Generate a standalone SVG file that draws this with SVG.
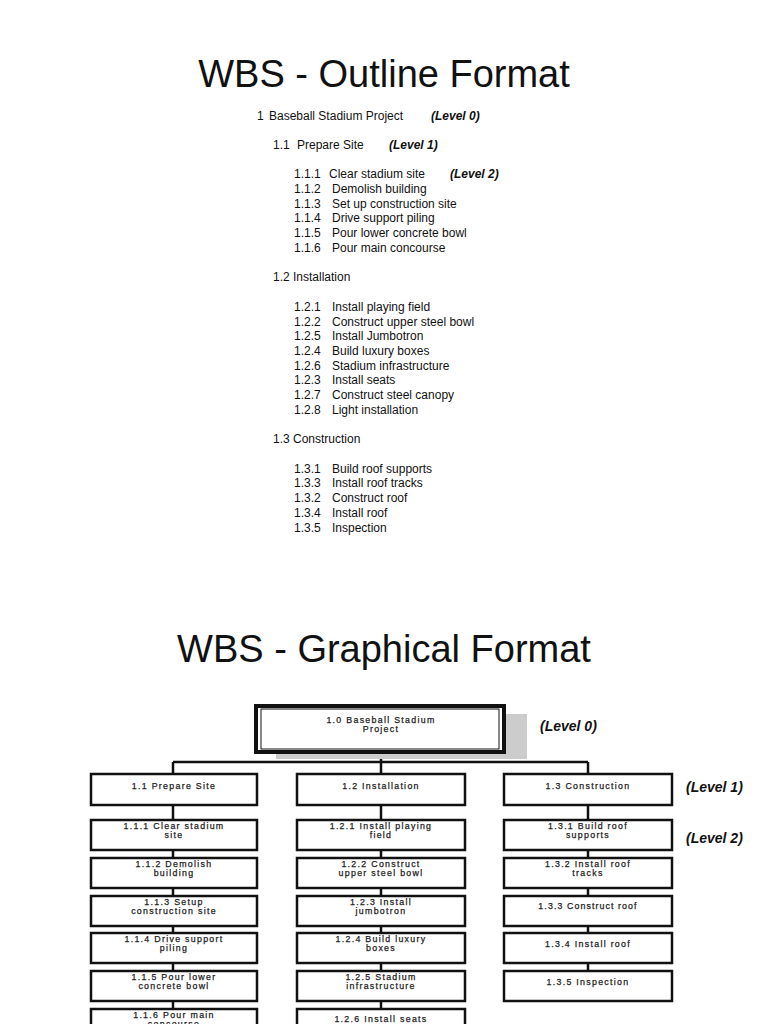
<svg xmlns="http://www.w3.org/2000/svg" width="768" height="1024" viewBox="0 0 768 1024">
<style>
.t{font-family:"Liberation Sans",Arial,sans-serif;fill:#111}
.h{font-size:38px;text-anchor:middle}
.o{font-size:12px}
.lv{font-size:12px;font-weight:bold;font-style:italic}
.lg{font-size:14px;font-weight:bold;font-style:italic}
.b{fill:#fff;stroke:#111;stroke-width:2.5}
.bt{font-size:8.8px;letter-spacing:1.3px;text-anchor:middle;font-family:"Liberation Sans",Arial,sans-serif;fill:#222;stroke:#222;stroke-width:0.25}
.c{stroke:#111;stroke-width:2.5;fill:none}
</style>
<rect width="768" height="1024" fill="#fff"/>
<text class="t h" x="384" y="87">WBS - Outline Format</text>
<g class="t o">
<text x="257" y="120">1</text><text x="269" y="120">Baseball Stadium Project</text><text class="lv" x="431" y="120">(Level 0)</text>
<text x="273" y="149">1.1</text><text x="297" y="149">Prepare Site</text><text class="lv" x="389" y="149">(Level 1)</text>
<text x="294" y="178">1.1.1</text><text x="329" y="178">Clear stadium site</text><text class="lv" x="450" y="178">(Level 2)</text>
<text x="294" y="193">1.1.2</text><text x="332" y="193">Demolish building</text>
<text x="294" y="208">1.1.3</text><text x="332" y="208">Set up construction site</text>
<text x="294" y="222">1.1.4</text><text x="332" y="222">Drive support piling</text>
<text x="294" y="237">1.1.5</text><text x="332" y="237">Pour lower concrete bowl</text>
<text x="294" y="252">1.1.6</text><text x="332" y="252">Pour main concourse</text>
<text x="273" y="281">1.2 Installation</text>
<text x="294" y="311">1.2.1</text><text x="332" y="311">Install playing field</text>
<text x="294" y="326">1.2.2</text><text x="332" y="326">Construct upper steel bowl</text>
<text x="294" y="340">1.2.5</text><text x="332" y="340">Install Jumbotron</text>
<text x="294" y="355">1.2.4</text><text x="332" y="355">Build luxury boxes</text>
<text x="294" y="370">1.2.6</text><text x="332" y="370">Stadium infrastructure</text>
<text x="294" y="384">1.2.3</text><text x="332" y="384">Install seats</text>
<text x="294" y="399">1.2.7</text><text x="332" y="399">Construct steel canopy</text>
<text x="294" y="414">1.2.8</text><text x="332" y="414">Light installation</text>
<text x="273" y="443">1.3 Construction</text>
<text x="294" y="473">1.3.1</text><text x="332" y="473">Build roof supports</text>
<text x="294" y="487">1.3.3</text><text x="332" y="487">Install roof tracks</text>
<text x="294" y="502">1.3.2</text><text x="332" y="502">Construct roof</text>
<text x="294" y="517">1.3.4</text><text x="332" y="517">Install roof</text>
<text x="294" y="532">1.3.5</text><text x="332" y="532">Inspection</text>
</g>
<text class="t h" x="384" y="662">WBS - Graphical Format</text>
<g id="connectors">
<path class="c" d="M381 752V774M173 762H588M173 762V774M588 762V774M173 805V1024M381 805V1024M588 805V971"/>
</g>
<g id="root">
<rect x="276" y="714" width="251" height="45" fill="#ccc"/>
<rect x="256" y="706" width="248" height="46" fill="#fff" stroke="#111" stroke-width="4"/>
<rect x="261" y="709" width="238" height="40" fill="none" stroke="#111" stroke-width="1"/>
<text class="bt" x="381" y="723">1.0 Baseball Stadium</text><text class="bt" x="381" y="732">Project</text>
</g>
<g id="l1">
<rect class="b" x="91" y="774" width="166" height="31"/><text class="bt" x="174" y="789">1.1 Prepare Site</text>
<rect class="b" x="297" y="774" width="168" height="31"/><text class="bt" x="381" y="789">1.2 Installation</text>
<rect class="b" x="504" y="774" width="168" height="31"/><text class="bt" x="588" y="789">1.3 Construction</text>
</g>
<g id="l2a">
<rect class="b" x="91" y="820" width="166" height="30"/><text class="bt" x="174" y="829">1.1.1 Clear stadium</text><text class="bt" x="174" y="838">site</text>
<rect class="b" x="91" y="858" width="166" height="30"/><text class="bt" x="174" y="867">1.1.2 Demolish</text><text class="bt" x="174" y="876">building</text>
<rect class="b" x="91" y="896" width="166" height="30"/><text class="bt" x="174" y="905">1.1.3 Setup</text><text class="bt" x="174" y="914">construction site</text>
<rect class="b" x="91" y="933" width="166" height="30"/><text class="bt" x="174" y="942">1.1.4 Drive support</text><text class="bt" x="174" y="951">piling</text>
<rect class="b" x="91" y="971" width="166" height="30"/><text class="bt" x="174" y="980">1.1.5 Pour lower</text><text class="bt" x="174" y="989">concrete bowl</text>
<rect class="b" x="91" y="1009" width="166" height="30"/><text class="bt" x="174" y="1018">1.1.6 Pour main</text><text class="bt" x="174" y="1027">concourse</text>
</g>
<g id="l2b">
<rect class="b" x="297" y="820" width="168" height="30"/><text class="bt" x="381" y="829">1.2.1 Install playing</text><text class="bt" x="381" y="838">field</text>
<rect class="b" x="297" y="858" width="168" height="30"/><text class="bt" x="381" y="867">1.2.2 Construct</text><text class="bt" x="381" y="876">upper steel bowl</text>
<rect class="b" x="297" y="896" width="168" height="30"/><text class="bt" x="381" y="905">1.2.3 Install</text><text class="bt" x="381" y="914">jumbotron</text>
<rect class="b" x="297" y="933" width="168" height="30"/><text class="bt" x="381" y="942">1.2.4 Build luxury</text><text class="bt" x="381" y="951">boxes</text>
<rect class="b" x="297" y="971" width="168" height="30"/><text class="bt" x="381" y="980">1.2.5 Stadium</text><text class="bt" x="381" y="989">infrastructure</text>
<rect class="b" x="297" y="1009" width="168" height="30"/><text class="bt" x="381" y="1022">1.2.6 Install seats</text>
</g>
<g id="l2c">
<rect class="b" x="504" y="820" width="168" height="30"/><text class="bt" x="588" y="829">1.3.1 Build roof</text><text class="bt" x="588" y="838">supports</text>
<rect class="b" x="504" y="858" width="168" height="30"/><text class="bt" x="588" y="867">1.3.2 Install roof</text><text class="bt" x="588" y="876">tracks</text>
<rect class="b" x="504" y="896" width="168" height="30"/><text class="bt" x="588" y="909" style="letter-spacing:1.1px">1.3.3 Construct roof</text>
<rect class="b" x="504" y="933" width="168" height="30"/><text class="bt" x="588" y="947">1.3.4 Install roof</text>
<rect class="b" x="504" y="971" width="168" height="30"/><text class="bt" x="588" y="985">1.3.5 Inspection</text>
</g>
<text class="t lg" x="540" y="731">(Level 0)</text>
<text class="t lg" x="686" y="792">(Level 1)</text>
<text class="t lg" x="686" y="843">(Level 2)</text>
</svg>
